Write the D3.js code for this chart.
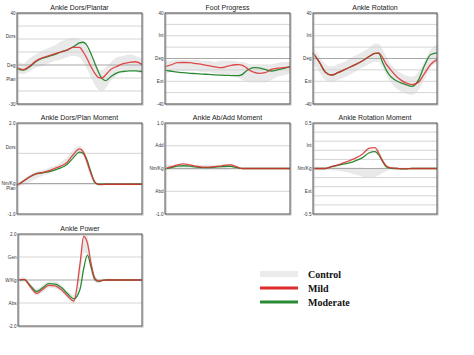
<!DOCTYPE html>
<html><head><meta charset="utf-8">
<script src="https://cdn.jsdelivr.net/npm/d3@7/dist/d3.min.js"></script>
<style>body{margin:0;background:#fff}svg{display:block}</style>
</head><body>
<svg id="c" width="474" height="355"></svg>
<script>
// % gait cycle sample points
const pct = [0,5,10,15,20,25,30,35,40,45,50,53,56,59,62,65,68,71,75,80,85,90,95,100];

// Ankle Dors/Plantar (deg)
const dpCtrlMean = [-1,-3,0,3,5,7,9,11,13,14,13,10,5,-1,-7,-11,-12,-10,-5,-1,1,2,1,-1];
const dpCtrlHalf = [5,4,5,5,6,6,6,7,7,7,7,8,8,8,8,8,8,8,7,7,6,6,6,6];
const dpMild     = [-2,-3.5,-1,3,5.5,7,8.5,10,11.5,13.5,13.5,10,5,-1,-6,-9.5,-10,-7.5,-3.5,-1,1,2,2.5,0.5];
const dpModerate = [-3,-4,-1.5,2.5,5,6.5,8,10,11.5,14,17,17.5,15,9,2,-5,-10.5,-12,-9,-6,-5,-4.5,-4.5,-5];

// Foot Progress (deg)
const fpCtrlMean = [-8,-7,-6,-6,-6,-6,-7,-7,-8,-8,-8,-8,-9,-10,-11,-12,-13,-13,-13,-13,-12,-10,-9,-8];
const fpCtrlHalf = [5,5,5,5,5,5,5,5,5,6,6,6,7,7,8,8,8,8,8,8,7,6,6,5];
const fpMild     = [-7.4,-5.5,-3.7,-3.5,-3.7,-4.5,-5.3,-6.3,-7.3,-8,-6.8,-6,-5.5,-5.3,-6,-8,-10.5,-12,-13,-12.5,-9.5,-8.5,-8,-7.4];
const fpModerate = [-10.3,-11.2,-12,-12.5,-13,-13.3,-13.7,-14,-14.4,-14.7,-14.8,-15,-15,-15,-14,-11,-9,-8,-8.3,-9.5,-11,-10,-8.7,-7.4];

// Ankle Rotation (deg)
const arCtrlMean = [3,-5,-12,-14,-12,-10,-7,-4,-1,2,5,5,0,-6,-12,-16,-19,-21,-23,-24,-20,-10,0,4];
const arCtrlHalf = [7,7,7,7,7,7,7,7,7,7,8,8,8,8,8,8,8,8,8,8,8,8,8,8];
const arMild     = [4.7,-3,-12,-14.5,-12.5,-10,-7.5,-5,-2,1.5,4.5,5,1,-5,-9,-13,-16.5,-19,-21.5,-23,-21,-13,-5,-1];
const arModerate = [4.7,-3,-12,-14.5,-12.5,-10,-7.5,-5,-2,1.5,4.5,4.5,-3,-10,-15,-18,-20,-21.5,-23,-24.5,-19,-6,3.5,5];

// Ankle Dors/Plan Moment (Nm/Kg)
const dmCtrlMean = [-0.05,0.05,0.17,0.28,0.35,0.42,0.5,0.6,0.75,1.0,1.12,1.02,0.7,0.33,0.06,-0.02,-0.02,-0.02,-0.02,-0.02,-0.02,-0.02,-0.02,-0.02];
const dmCtrlHalf = [0.06,0.1,0.12,0.12,0.1,0.1,0.1,0.1,0.12,0.12,0.12,0.12,0.12,0.1,0.06,0.04,0.03,0.03,0.03,0.03,0.03,0.03,0.03,0.03];
const dmMild     = [-0.05,0.08,0.22,0.32,0.36,0.42,0.5,0.58,0.7,0.96,1.15,1.05,0.72,0.35,0.08,-0.02,-0.03,-0.02,-0.02,-0.02,-0.02,-0.02,-0.02,-0.02];
const dmModerate = [-0.05,0.08,0.22,0.32,0.36,0.39,0.45,0.52,0.63,0.85,1.04,1.0,0.78,0.4,0.05,-0.02,-0.02,-0.02,-0.02,-0.02,-0.02,-0.02,-0.02,-0.02];

// Ankle Ab/Add Moment (Nm/Kg)
const amCtrlMean = [0.02,0.02,0.02,0.02,0.02,0.02,0.02,0.02,0.02,0.02,0.02,0.02,0.01,0,0,0,0,0,0,0,0,0,0,0];
const amCtrlHalf = [0.06,0.06,0.06,0.06,0.06,0.06,0.06,0.06,0.06,0.06,0.06,0.05,0.04,0.03,0.02,0.02,0.02,0.02,0.02,0.02,0.02,0.02,0.02,0.02];
const amMild     = [0,0.04,0.08,0.1,0.08,0.05,0.03,0.03,0.04,0.06,0.08,0.08,0.05,0.02,0,0,0,0,0,0,0,0,0,0];
const amModerate = [-0.01,0.02,0.05,0.06,0.05,0.03,0.02,0.02,0.03,0.04,0.05,0.05,0.03,0.01,0,0,0,0,0,0,0,0,0,0];

// Ankle Rotation Moment (Nm/Kg)
const rmCtrlMean = [0,0,0,0,-0.005,-0.01,-0.02,-0.03,-0.04,-0.05,-0.045,-0.035,-0.02,-0.01,0,0,0,0,0,0,0,0,0,0];
const rmCtrlHalf = [0.02,0.02,0.02,0.02,0.02,0.025,0.03,0.04,0.05,0.05,0.05,0.04,0.03,0.02,0.015,0.01,0.01,0.01,0.01,0.01,0.01,0.01,0.01,0.01];
const rmMild     = [0,0,0,0.02,0.04,0.065,0.09,0.12,0.16,0.22,0.23,0.17,0.09,0.03,0.01,0.005,0,-0.005,-0.005,0,0,0,0,0];
const rmModerate = [0,0,0,0.02,0.035,0.05,0.065,0.09,0.12,0.17,0.185,0.15,0.08,0.02,0.005,0,0,-0.005,-0.005,0,0,0,0,0];

// Ankle Power (W/Kg)
const pwCtrlMean = [0,0.02,-0.28,-0.52,-0.38,-0.2,-0.22,-0.38,-0.65,-0.85,0.4,1.6,1.5,0.6,0.05,-0.05,0,0,0,0,0,0,0,0];
const pwCtrlHalf = [0.08,0.1,0.12,0.15,0.15,0.15,0.15,0.15,0.15,0.2,0.4,0.4,0.4,0.3,0.15,0.1,0.05,0.05,0.05,0.05,0.05,0.05,0.05,0.05];
const pwMild     = [0,0.03,-0.3,-0.58,-0.4,-0.23,-0.26,-0.42,-0.7,-0.92,0.7,1.9,1.6,0.7,0.08,-0.05,-0.02,0,0,0,0,0,0,0];
const pwModerate = [0,0.02,-0.25,-0.5,-0.33,-0.16,-0.18,-0.33,-0.6,-0.82,-0.4,0.5,1.08,0.55,0.02,-0.06,-0.02,0,0,0,0,0,0,0];

// Axis labels
const dpTicks = [[40,"40"],[22,"Dors"],[0,"Deg"],[-11,"Plan"],[-30,"-30"]];
const fpTicks = [[40,"40"],[20,"Int"],[0,"Deg"],[-20,"Ext"],[-40,"-40"]];
const arTicks = [[40,"40"],[20,"Int"],[0,"Deg"],[-20,"Ext"],[-40,"-40"]];
const dmTicks = [[2,"2.0"],[1.2,"Dors"],[0,"Nm/Kg"],[-0.17,"Plan"],[-1,"-1.0"]];
const amTicks = [[1,"1.0"],[0.5,"Add"],[0,"Nm/Kg"],[-0.5,"Abd"],[-1,"-1.0"]];
const rmTicks = [[0.5,"0.5"],[0.25,"Int"],[0,"Nm/Kg"],[-0.25,"Ext"],[-0.5,"-0.5"]];
const pwTicks = [[2,"2.0"],[1,"Gen"],[0,"W/Kg"],[-1,"Abs"],[-2,"-2.0"]];

const legendLabels = ["Control","Mild","Moderate"];
const colors = {control:"#e9e9e9", mild:"#dd2b2b", moderate:"#2a8a34"};

// Panels (layout separate from data)
const panels = [
  {title:"Ankle Dors/Plantar", dom:[-30,40], grid:d3.range(-30,41,10), ticks:dpTicks, m:dpCtrlMean,h:dpCtrlHalf,a:dpMild,b:dpModerate, box:[17,13,142,104]},
  {title:"Foot Progress", dom:[-40,40], grid:d3.range(-40,41,10), ticks:fpTicks, m:fpCtrlMean,h:fpCtrlHalf,a:fpMild,b:fpModerate, box:[165,13,290,104]},
  {title:"Ankle Rotation", dom:[-40,40], grid:d3.range(-40,41,10), ticks:arTicks, m:arCtrlMean,h:arCtrlHalf,a:arMild,b:arModerate, box:[313,13,437,104]},
  {title:"Ankle Dors/Plan Moment", dom:[-1,2], grid:[1,0], ticks:dmTicks, m:dmCtrlMean,h:dmCtrlHalf,a:dmMild,b:dmModerate, box:[17,123,142,214]},
  {title:"Ankle Abl/Add Moment", dom:[-1,1], grid:[0.5,0,-0.5], ticks:amTicks, m:amCtrlMean,h:amCtrlHalf,a:amMild,b:amModerate, box:[165,123,290,214]},
  {title:"Ankle Rotation Moment", dom:[-0.5,0.5], grid:d3.range(-4,5).map(d=>d/10), ticks:rmTicks, m:rmCtrlMean,h:rmCtrlHalf,a:rmMild,b:rmModerate, box:[313,123,437,214]},
  {title:"Ankle Power", dom:[-2,2], grid:[1,0,-1], ticks:pwTicks, m:pwCtrlMean,h:pwCtrlHalf,a:pwMild,b:pwModerate, box:[18,234,142,326]}
];
panels[4].title = "Ankle Ab/Add Moment";

const svg = d3.select("#c");
const font = "'Liberation Sans', Arial, sans-serif";

panels.forEach(p => {
  const [x0,y0,x1,y1] = p.box;
  const x = d3.scaleLinear().domain([0,100]).range([x0,x1]);
  const y = d3.scaleLinear().domain(p.dom).range([y1,y0]);
  const g = svg.append("g");
  g.append("rect").attr("x",x0).attr("y",y0).attr("width",x1-x0).attr("height",y1-y0).attr("fill","#fff");
  const idx = d3.range(pct.length);
  // control band
  g.append("path").datum(idx)
    .attr("d", d3.area().curve(d3.curveMonotoneX).x(i=>x(pct[i])).y0(i=>y(p.m[i]-p.h[i])).y1(i=>y(p.m[i]+p.h[i])))
    .attr("fill", colors.control);
  // grid
  g.selectAll(".gl").data(p.grid).join("line")
    .attr("x1",x0).attr("x2",x1).attr("y1",d=>y(d)).attr("y2",d=>y(d))
    .attr("stroke",d=>d===0?"#a8a8a8":"#d4d4d4").attr("stroke-width",d=>d===0?1.2:1);
  // lines
  const line = arr => d3.line().curve(d3.curveMonotoneX).x(i=>x(pct[i])).y(i=>y(arr[i]))(idx);
  g.append("path").attr("d",line(p.b)).attr("fill","none").attr("stroke",colors.moderate).attr("stroke-width",1.3);
  g.append("path").attr("d",line(p.a)).attr("fill","none").attr("stroke",colors.mild).attr("stroke-width",1.3).attr("stroke-opacity",0.85);
  // frame
  g.append("rect").attr("x",x0+1).attr("y",y0+1).attr("width",x1-x0).attr("height",y1-y0).attr("fill","none").attr("stroke","#bbb").attr("stroke-width",1);
  g.append("rect").attr("x",x0).attr("y",y0).attr("width",x1-x0).attr("height",y1-y0).attr("fill","none").attr("stroke","#555").attr("stroke-width",1);
  // title
  g.append("text").attr("x",(x0+x1)/2).attr("y",y0-3).attr("text-anchor","middle")
    .attr("font-family",font).attr("font-size",7).attr("fill","#222").text(p.title);
  // tick labels
  g.selectAll(".tl").data(p.ticks).join("text")
    .attr("x",x0-1.5).attr("y",d=>y(d[0])).attr("dy","0.35em").attr("text-anchor","end")
    .attr("font-family",font).attr("font-size",4.6).attr("fill","#333").text(d=>d[1]);
});

// legend
const lg = svg.append("g");
const lgY = d3.scalePoint().domain(legendLabels).range([274,302]);
const lgCol = [colors.control, colors.mild, colors.moderate];
lg.selectAll("line").data(legendLabels).join("line")
  .attr("x1",260).attr("x2",298).attr("y1",d=>lgY(d)).attr("y2",d=>lgY(d))
  .attr("stroke",(d,i)=>i===0?"#ebebeb":lgCol[i]).attr("stroke-width",(d,i)=>i===0?6:3);
lg.selectAll("text").data(legendLabels).join("text")
  .attr("x",308).attr("y",d=>lgY(d)).attr("dy","0.35em")
  .attr("font-family","'Liberation Serif','Times New Roman',serif").attr("font-weight","bold")
  .attr("font-size",10).attr("fill","#111").text(d=>d);
</script>
</body></html>
